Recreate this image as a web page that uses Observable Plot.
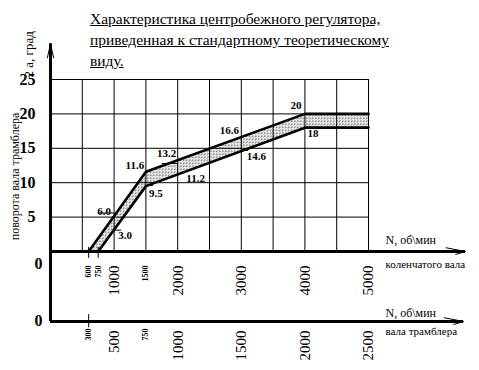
<!DOCTYPE html>
<html><head><meta charset="utf-8">
<script src="https://cdn.jsdelivr.net/npm/d3@7"></script>
<script src="https://cdn.jsdelivr.net/npm/@observablehq/plot@0.6"></script>
<style>
body{margin:0;background:#fff;}
#wrap{position:relative;width:479px;height:370px;}
#title{position:absolute;left:90px;top:8px;font-family:"Liberation Serif",serif;font-size:15.5px;line-height:21px;text-decoration:underline;color:#000;white-space:nowrap;}
</style>
</head><body>
<div id="wrap"><div id="title">Характеристика центробежного регулятора,<br>приведенная к стандартному теоретическому<br>виду.</div></div>
<script>
// ---- data ----
const upperRpm = [600, 1500, 4000, 5000];
const upperDeg = [0, 11.6, 20, 20];
const lowerRpm = [750, 1500, 4000, 5000];
const lowerDeg = [0, 9.5, 18, 18];
const upperLabelRpm = [1000, 1500, 2000, 3000, 4000];
const upperLabelDeg = [6.0, 11.6, 13.2, 16.6, 20];
const lowerLabelRpm = [1000, 1500, 2000, 3000, 4000];
const lowerLabelDeg = [3.0, 9.5, 11.2, 14.6, 18];
const yTicks = [5, 10, 15, 20, 25];
const crankTicksBig = [1000, 2000, 3000, 4000, 5000];
const crankTicksSmall = [600, 750, 1500];
const camTicksBig = [500, 1000, 1500, 2000, 2500];
const camTicksSmall = [300, 750];

// ---- build ----
const fmt = v => (v >= 18 ? String(v) : v.toFixed(1));
const upper = upperRpm.map((r, i) => ({rpm: r, deg: upperDeg[i]}));
const lower = lowerRpm.map((r, i) => ({rpm: r, deg: lowerDeg[i]}));
const band = upper.concat(lower.slice().reverse());
const upLab = upperLabelRpm.map((r, i) => ({rpm: r, deg: upperLabelDeg[i], t: fmt(upperLabelDeg[i])}));
const loLab = lowerLabelRpm.map((r, i) => ({rpm: r, deg: lowerLabelDeg[i], t: fmt(lowerLabelDeg[i])}));
const upOff = [[-10, 1], [-11, -6], [-11, -7], [-12, -7], [-9, -8]];
const loOff = [[11, 5], [10, 7], [18, 4], [15, 5], [8, 6]];

const camY = -10.17;      // second (camshaft) axis level in degree units
const arrowX = 6525;      // arrow tip in rpm units
const topY = 30.2;        // y-axis arrow tip
const serif = "Liberation Serif";

const marks = [
  Plot.line(band, {x: "rpm", y: "deg", fill: "url(#dots)", stroke: "none"}),
  Plot.ruleX(d3.range(500, 5001, 500), {y1: 0, y2: 25, stroke: "#000", strokeWidth: 1}),
  Plot.ruleY(yTicks, {x1: 0, x2: 5000, stroke: "#000", strokeWidth: 1}),
  Plot.ruleX([0], {y1: camY, y2: topY, stroke: "#000", strokeWidth: 3}),
  Plot.ruleY([0], {x1: 0, x2: arrowX, stroke: "#000", strokeWidth: 3}),
  Plot.ruleY([camY], {x1: 0, x2: arrowX - 30, stroke: "#000", strokeWidth: 3}),
  Plot.link([{x1: arrowX - 310, y1: 0.55, x2: arrowX, y2: 0}, {x1: arrowX, y1: 0, x2: arrowX - 160, y2: -0.45},
             {x1: arrowX - 340, y1: camY + 0.55, x2: arrowX - 30, y2: camY}, {x1: arrowX - 30, y1: camY, x2: arrowX - 190, y2: camY - 0.45},
             {x1: -50, y1: topY - 2.1, x2: 0, y2: topY}, {x1: 50, y1: topY - 2.1, x2: 0, y2: topY}],
            {x1: "x1", y1: "y1", x2: "x2", y2: "y2", stroke: "#000", strokeWidth: 1}),
  Plot.ruleX([600, 750], {y1: 0.6, y2: -1.0, stroke: "#000", strokeWidth: 1}),
  Plot.ruleX([600], {y1: camY + 1.0, y2: camY - 0.9, stroke: "#000", strokeWidth: 1}),
  Plot.line(upper, {x: "rpm", y: "deg", stroke: "#000", strokeWidth: 2.6}),
  Plot.line(lower, {x: "rpm", y: "deg", stroke: "#000", strokeWidth: 2.6}),
  Plot.link([upLab[0], upLab[2]], {x1: d => d.rpm - 250, x2: d => d.rpm, y1: d => d.deg - 0.4, y2: d => d.deg - 0.4, stroke: "#000", strokeWidth: 1}),
  Plot.link([loLab[0], loLab[1], loLab[3]], {x1: d => d.rpm, x2: d => d.rpm + 110, y1: d => d.deg + 0.1, y2: d => d.deg + 0.1, stroke: "#000", strokeWidth: 1}),
  ...upLab.map((d, i) => Plot.text([d], {x: "rpm", y: "deg", text: "t", dx: upOff[i][0], dy: upOff[i][1], fontWeight: "bold", fontSize: 11})),
  ...loLab.map((d, i) => Plot.text([d], {x: "rpm", y: "deg", text: "t", dx: loOff[i][0], dy: loOff[i][1], fontWeight: "bold", fontSize: 11})),
  Plot.text(yTicks, {x: 0, y: d => d, text: d => String(d), dx: -15, textAnchor: "end", fontWeight: "bold", fontSize: 16}),
  Plot.text([0], {x: 0, y: 0, text: ["0"], dx: -12, dy: 12, fontWeight: "bold", fontSize: 16}),
  Plot.text([0], {x: 0, y: camY, text: ["0"], dx: -12, dy: -1, fontWeight: "bold", fontSize: 16}),
  Plot.text(crankTicksBig, {x: d => d, y: 0, text: d => String(d), rotate: -90, textAnchor: "end", dy: 14, fontSize: 15}),
  Plot.text(crankTicksSmall, {x: d => d, y: 0, text: d => String(d), rotate: -90, textAnchor: "end", dy: 14, fontSize: 8, fontWeight: "bold"}),
  Plot.text(camTicksBig, {x: d => d * 2, y: camY, text: d => String(d), rotate: -90, textAnchor: "end", dy: 9, fontSize: 15}),
  Plot.text(camTicksSmall, {x: d => d * 2, y: camY, text: d => String(d), rotate: -90, textAnchor: "end", dy: 7, fontSize: 8, fontWeight: "bold"}),
  Plot.text(["N, об\\мин"], {x: 5000, y: 0, dx: 17, dy: -11, textAnchor: "start", fontSize: 12}),
  Plot.text(["коленчатого вала"], {x: 5000, y: 0, dx: 17, dy: 13, textAnchor: "start", fontSize: 11}),
  Plot.text(["N, об\\мин"], {x: 5000, y: camY, dx: 17, dy: -8, textAnchor: "start", fontSize: 12}),
  Plot.text(["вала трамблера"], {x: 5000, y: camY, dx: 17, dy: 10, textAnchor: "start", fontSize: 11}),
  Plot.text(["поворота вала трамблера"], {frameAnchor: "left", y: 10.9, dx: -35, rotate: -90, textAnchor: "middle", fontSize: 12}),
  Plot.text(["2 a, град"], {frameAnchor: "left", y: 25.3, dx: -22, rotate: -90, textAnchor: "start", fontSize: 13})
];

const chart = Plot.plot({
  width: 479, height: 370,
  marginLeft: 50, marginRight: 111, marginTop: 79, marginBottom: 119,
  x: {domain: [0, 5000], axis: null},
  y: {domain: [0, 25], axis: null},
  style: {fontFamily: serif, background: "transparent", color: "#000"},
  marks
});
const svg = d3.select(chart);
const defs = svg.insert("defs", ":first-child");
const pat = defs.append("pattern").attr("id", "dots").attr("width", 3).attr("height", 3).attr("patternUnits", "userSpaceOnUse");
pat.append("rect").attr("width", 3).attr("height", 3).attr("fill", "#fff");
pat.append("rect").attr("x", 0).attr("y", 0).attr("width", 1).attr("height", 1).attr("fill", "#000");
pat.append("rect").attr("x", 2).attr("y", 1).attr("width", 1).attr("height", 1).attr("fill", "#555");
document.getElementById("wrap").prepend(chart);
chart.style.position = "absolute"; chart.style.left = "0"; chart.style.top = "0";
</script>
</body></html>
